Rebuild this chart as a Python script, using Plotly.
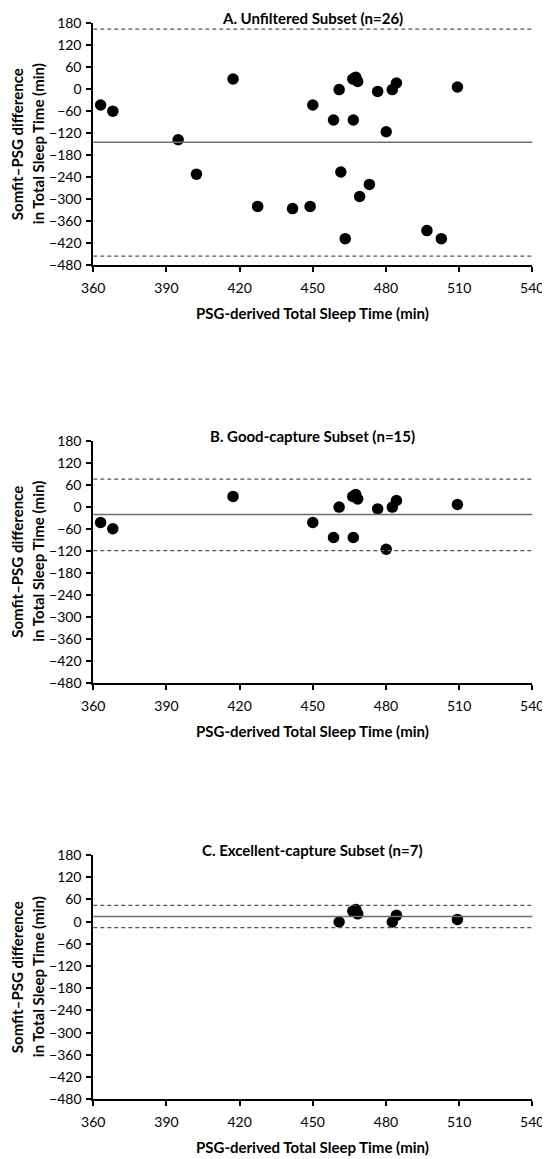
import plotly.graph_objects as go

# PSG-derived TST (x) and Somfit-PSG difference (y)
psg_a = [363, 368, 394.8, 402.3, 417.3, 427.4, 441.7, 448.9, 450, 458.5, 460.8, 461.5, 463.3,
         466.6, 466.4, 467.6, 468.4, 469.2, 473.2, 476.6, 480.1, 482.6, 484.3, 496.8, 502.7, 509.3]
diff_a = [-43, -60, -138, -232, 28, -320, -326, -320, -43, -84, -1, -226, -408,
          -84, 28, 33, 21, -293, -260, -6, -116, -1, 17, -386, -408, 6]

psg_b = [363, 368, 417.3, 450, 458.5, 460.8, 466.4, 466.6, 467.6, 468.4, 476.6, 480.1, 482.6, 484.3, 509.3]
diff_b = [-43, -60, 28, -43, -84, -1, 28, -84, 33, 21, -6, -116, -1, 17, 6]

psg_c = [460.8, 466.4, 467.6, 468.4, 482.6, 484.3, 509.3]
diff_c = [-1, 28, 33, 21, -1, 17, 6]

# mean bias, upper and lower limits of agreement
loa_a = [-145, 164, -456]
loa_b = [-21, 75, -120]
loa_c = [14, 44, -16]

titles = ["A. Unfiltered Subset (n=26)", "B. Good-capture Subset (n=15)", "C. Excellent-capture Subset (n=7)"]
x_ticks = [360, 390, 420, 450, 480, 510, 540]
y_ticks = [180, 120, 60, 0, -60, -120, -180, -240, -300, -360, -420, -480]

# page puts the figure 8px in from the top-left corner of the window
OFF = 8
W, H = 550 - OFF, 1159 - OFF
FONT = "Lato"


def px(v):
    return (v - OFF) / W


def py(v):
    return 1 - (v - OFF) / H


# plot areas in window pixels (top, bottom)
areas = [(23.3, 265), (440.7, 682.7), (855, 1099.3)]
x_dom = [px(93.3), px(532.3)]

fig = go.Figure()
panels = [(psg_a, diff_a, loa_a), (psg_b, diff_b, loa_b), (psg_c, diff_c, loa_c)]

for i, (xs, ys, loa) in enumerate(panels):
    n = "" if i == 0 else str(i + 1)
    top, bot = areas[i]
    fig.add_trace(go.Scatter(x=xs, y=ys, mode="markers", xaxis="x" + n, yaxis="y" + n,
                             marker=dict(color="black", size=11.5), showlegend=False))
    ax = dict(domain=x_dom, range=[360, 540], tickvals=x_ticks, showline=True, linecolor="black",
              linewidth=2, ticks="outside", ticklen=5, tickwidth=1.5, tickcolor="black",
              showgrid=False, zeroline=False, anchor="y" + n, ticklabelstandoff=4,
              automargin=False, tickfont=dict(family=FONT, size=14, color="black"))
    ay = dict(domain=[py(bot), py(top)], range=[-480, 180], tickvals=y_ticks,
              showline=True, linecolor="black", linewidth=2, ticks="outside", ticklen=5,
              tickwidth=1.5, tickcolor="black", showgrid=False, zeroline=False, anchor="x" + n,
              ticklabelstandoff=2, automargin=False, tickfont=dict(family=FONT, size=14, color="black"))
    fig.layout["xaxis" + n] = ax
    fig.layout["yaxis" + n] = ay

    xref = "x" + n + " domain"
    yref = "y" + n
    fig.add_shape(type="line", xref=xref, yref=yref, x0=0, x1=1, y0=loa[0], y1=loa[0],
                  line=dict(color="#6e6e6e", width=1.5))
    for v in loa[1:]:
        fig.add_shape(type="line", xref=xref, yref=yref, x0=0, x1=1, y0=v, y1=v,
                      line=dict(color="#555555", width=1.2, dash="4px,3px"))

    cx = (x_dom[0] + x_dom[1]) / 2
    fig.add_annotation(text="<b>" + titles[i] + "</b>", xref="paper", yref="paper",
                       x=cx, y=py(top - 5), xanchor="center", yanchor="middle",
                       showarrow=False, font=dict(family=FONT, size=15, color="black"))
    fig.add_annotation(text="<b>PSG-derived Total Sleep Time (min)</b>", xref="paper", yref="paper",
                       x=cx, y=py(bot + 48), xanchor="center", yanchor="middle",
                       showarrow=False, font=dict(family=FONT, size=15, color="black"))
    ymid = py((top + bot) / 2)
    for txt, xp in [("Somfit–PSG difference", 17), ("in Total Sleep Time (min)", 38)]:
        fig.add_annotation(text="<b>" + txt + "</b>", xref="paper", yref="paper", x=px(xp), y=ymid,
                           xanchor="center", yanchor="middle", textangle=-90, showarrow=False,
                           font=dict(family=FONT, size=15, color="black"))

fig.update_layout(width=W, height=H, margin=dict(l=0, r=0, t=0, b=0, pad=0),
                  plot_bgcolor="white", paper_bgcolor="white")

fig.write_html("out.html")
